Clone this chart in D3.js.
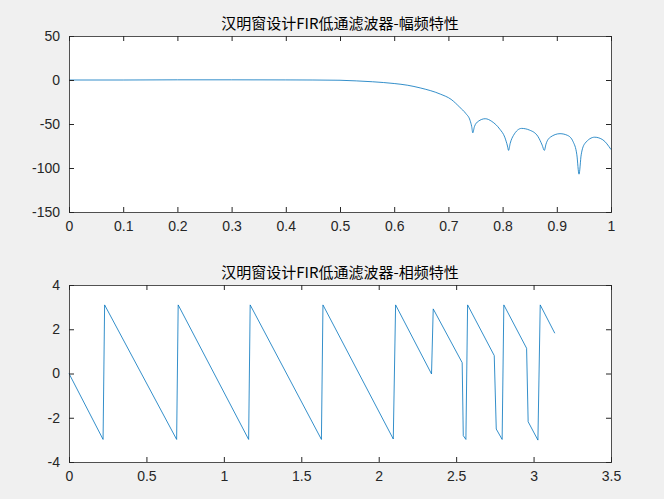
<!DOCTYPE html><html><head><meta charset="utf-8">
<script src="https://cdn.jsdelivr.net/npm/d3@7"></script>
<style>body{margin:0;background:#f0f0f0}svg{display:block}</style></head><body>
<svg id="c" width="664" height="499"></svg>
<script>
const magTitle="汉明窗设计FIR低通滤波器-幅频特性";
const phaseTitle="汉明窗设计FIR低通滤波器-相频特性";
const magX=[0,0.1,0.2,0.3,0.4,0.45,0.5,0.53,0.56,0.6,0.625,0.648,0.685,0.705,0.721,0.732,0.740,0.743,0.745,0.748,0.755,0.768,0.78,0.795,0.804,0.809,0.811,0.814,0.82,0.835,0.85,0.865,0.873,0.877,0.88,0.888,0.906,0.92,0.93,0.937,0.941,0.945,0.952,0.97,0.985,1.0];
const magY=[0,0,0.2,0.2,0.1,0,-0.3,-1,-2,-4,-6,-9,-16,-22,-31,-38,-46,-53,-60,-53,-47,-44,-47,-56,-65,-75,-80,-72,-63,-55,-57,-64,-74,-80,-73,-65,-61,-63,-70,-85,-107,-85,-72,-65,-68,-79];
const phX=[0,0.22,0.23,0.695,0.705,1.16,1.17,1.63,1.64,2.094,2.109,2.341,2.352,2.539,2.546,2.563,2.574,2.746,2.759,2.797,2.808,2.955,2.965,3.028,3.043,3.137];
const phY=[0,-2.98,3.10,-2.98,3.10,-2.98,3.10,-2.98,3.10,-2.96,3.10,-0.02,2.92,0.49,-2.81,-2.98,3.10,0.81,-2.51,-2.98,3.10,1.14,-2.18,-3.01,3.10,1.82];
const magXTicks=[0,0.1,0.2,0.3,0.4,0.5,0.6,0.7,0.8,0.9,1];
const magYTicks=[-150,-100,-50,0,50];
const phXTicks=[0,0.5,1,1.5,2,2.5,3,3.5];
const phYTicks=[-4,-2,0,2,4];
const svg=d3.select("#c");
const ac="#262626";
function panel(top,bottom,xd,yd,xt,yt,xs,ys,title,curve){
  const x=d3.scaleLinear().domain(xd).range([69,611]);
  const y=d3.scaleLinear().domain(yd).range([bottom,top]);
  const g=svg.append("g");
  g.append("rect").attr("x",69).attr("y",top).attr("width",542).attr("height",bottom-top).attr("fill","#fff");
  g.append("path").datum(xs.map((v,i)=>[v,ys[i]])).attr("fill","none").attr("stroke","#0072bd").attr("stroke-width",0.8)
   .attr("d",d3.line().curve(curve).x(d=>x(d[0])).y(d=>y(d[1])));
  const ax=(gen,tr)=>{const a=g.append("g").attr("transform",tr).call(gen);a.selectAll("path,line").attr("stroke",ac);a.selectAll("text").attr("fill",ac).style("font-family","Liberation Sans, Arial").style("font-size","14px");return a;};
  ax(d3.axisBottom(x).tickValues(xt).tickSize(-5).tickPadding(9).tickFormat(d=>d),`translate(0,${bottom})`);
  ax(d3.axisTop(x).tickValues(xt).tickSize(-5).tickFormat(""),`translate(0,${top})`);
  ax(d3.axisLeft(y).tickValues(yt).tickSize(-5).tickPadding(9).tickFormat(d=>d),`translate(69,0)`);
  ax(d3.axisRight(y).tickValues(yt).tickSize(-5).tickFormat(""),`translate(611,0)`);
  g.selectAll(".domain").attr("stroke-width",0.8);
  g.append("text").attr("x",340).attr("y",top-7).attr("text-anchor","middle").attr("fill","#000")
   .style("font-family","Noto Sans CJK SC").style("font-size","15px").text(title);
}
panel(36,212,[0,1],[-150,50],magXTicks,magYTicks,magX,magY,magTitle,d3.curveMonotoneX);
panel(285,462,[0,3.5],[-4,4],phXTicks,phYTicks,phX,phY,phaseTitle,d3.curveLinear);
</script></body></html>
